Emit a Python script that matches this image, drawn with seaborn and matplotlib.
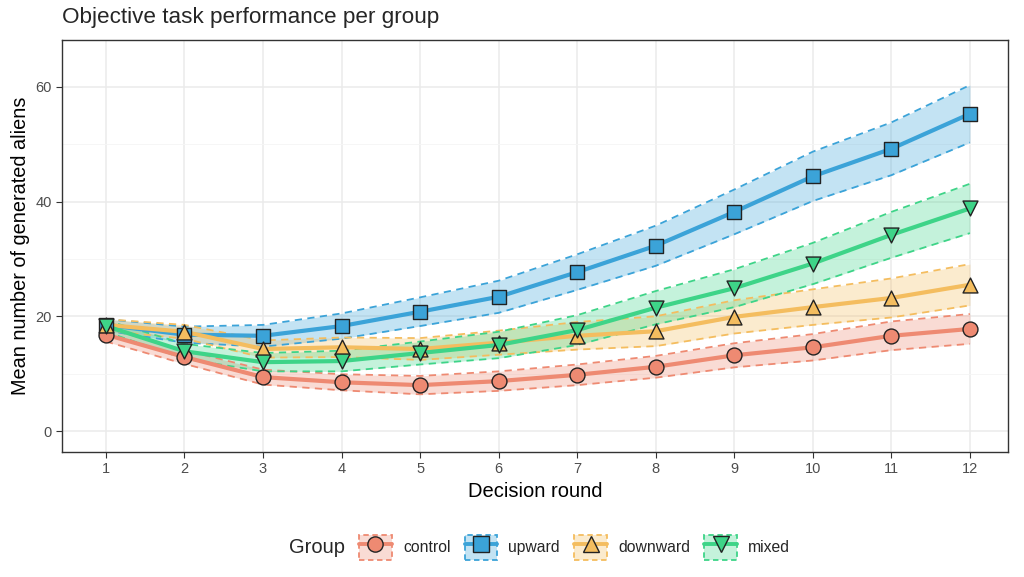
import numpy as np
import pandas as pd
import matplotlib
matplotlib.use("Agg")
import matplotlib.pyplot as plt
from matplotlib.patches import Patch
from matplotlib.lines import Line2D
from matplotlib.legend_handler import HandlerTuple
from matplotlib.offsetbox import HPacker
import seaborn as sns

rounds = list(range(1, 13))
groups = ["control", "upward", "downward", "mixed"]
control = [16.8, 12.9, 9.4, 8.5, 8.0, 8.7, 9.8, 11.2, 13.2, 14.6, 16.6, 17.8]
upward = [18.5, 16.8, 16.6, 18.3, 20.8, 23.4, 27.7, 32.3, 38.2, 44.4, 49.2, 55.3]
downward = [18.5, 17.3, 14.3, 14.6, 14.3, 15.4, 16.6, 17.4, 19.9, 21.6, 23.2, 25.5]
mixed = [18.3, 13.9, 12.0, 12.2, 13.6, 15.0, 17.6, 21.5, 24.9, 29.2, 34.2, 38.8]
control_half = [1.2, 1.2, 1.3, 1.4, 1.6, 1.7, 1.8, 1.9, 2.1, 2.3, 2.5, 2.6]
upward_half = [1.0, 1.4, 1.9, 2.2, 2.5, 2.8, 3.1, 3.5, 3.9, 4.3, 4.6, 5.0]
downward_half = [1.0, 1.2, 1.5, 1.7, 1.9, 2.1, 2.4, 2.6, 2.9, 3.1, 3.4, 3.6]
mixed_half = [1.0, 1.3, 1.6, 1.8, 2.0, 2.3, 2.6, 2.9, 3.3, 3.6, 4.0, 4.3]

colors = {"control": "#EE8A72", "upward": "#3BA3D8", "downward": "#F4BD5F", "mixed": "#3ED488"}
markers = {"control": "o", "upward": "s", "downward": "^", "mixed": "v"}

vals = {"control": control, "upward": upward, "downward": downward, "mixed": mixed}
halfs = {"control": control_half, "upward": upward_half, "downward": downward_half, "mixed": mixed_half}

rows = []
for g in groups:
    for r, v, h in zip(rounds, vals[g], halfs[g]):
        rows.append({"round": r, "mean": v, "lo": v - h, "hi": v + h, "Group": g})
df = pd.DataFrame(rows)

sns.set_theme(style="whitegrid")
plt.rcParams["font.family"] = ["Liberation Sans", "DejaVu Sans"]

fig = plt.figure(figsize=(10.24, 5.77), dpi=100)
ax = fig.add_axes([0.0605, 0.2166, 0.9235, 0.7144])

for g in groups:
    d = df[df.Group == g]
    c = colors[g]
    ax.fill_between(d["round"], d["lo"], d["hi"], color=c, alpha=0.3, lw=0, zorder=2)
    ax.plot(d["round"], d["lo"], color=c, ls=(0, (4, 3)), lw=1.3, zorder=3)
    ax.plot(d["round"], d["hi"], color=c, ls=(0, (4, 3)), lw=1.3, zorder=3)

sns.lineplot(data=df, x="round", y="mean", hue="Group", hue_order=groups,
             palette=colors, lw=3.0, ax=ax, legend=False, zorder=4)
for i, g in enumerate(groups):
    d = df[df.Group == g]
    sns.scatterplot(x=d["round"], y=d["mean"], marker=markers[g], color=colors[g],
                    edgecolor="#222222", linewidth=1.0, s=115, ax=ax, zorder=5 + i * 0.1, legend=False)

ax.set_xlim(0.44, 12.48)
ax.set_ylim(-3.66, 68.2)
ax.set_xticks(rounds)
ax.set_yticks([0, 20, 40, 60])
ax.set_facecolor("white")
ax.grid(True, color="#EBEBEB", lw=1.1)
ax.set_yticks([10, 30, 50], minor=True)
ax.grid(True, which="minor", axis="y", color="#F5F5F5", lw=0.6)
ax.tick_params(axis="y", which="minor", length=0)
for s in ax.spines.values():
    s.set_color("#333333")
    s.set_linewidth(1.0)
ax.tick_params(axis="both", which="major", colors="#333333", labelcolor="#4D4D4D", labelsize=10.5,
               length=4, width=0.8, left=True, bottom=True)
ax.set_xlabel("Decision round", fontsize=14.5, color="black")
ax.set_ylabel("Mean number of generated aliens", fontsize=14.3, color="black")
fig.text(0.0605, 0.952, "Objective task performance per group", fontsize=16.2, ha="left", va="bottom")

handles = []
for g in groups:
    c = colors[g]
    patch = Patch(facecolor=matplotlib.colors.to_rgba(c, 0.3), edgecolor=c, linestyle=(0, (3, 2)), linewidth=1.3)
    line = Line2D([], [], color=c, lw=2.8, marker=markers[g], markersize=11,
                  markerfacecolor=c, markeredgecolor="#222222", markeredgewidth=1.0)
    handles.append((patch, line))
leg = fig.legend(handles, groups, loc="lower center", bbox_to_anchor=(0.527, 0.005), ncol=4,
                 frameon=False, title="Group", fontsize=11.3, title_fontsize=14.5,
                 handler_map={tuple: HandlerTuple(ndivide=1, pad=0)},
                 handlelength=2.1, handleheight=2.1, columnspacing=0.9, handletextpad=0.7)
box = leg._legend_box
children = box.get_children()
leg._legend_box = HPacker(pad=box.pad, sep=10, align="center", children=children)
leg._legend_box.set_figure(fig)
leg._legend_box.set_offset(box._offset)

fig.savefig("out.png", dpi=100)
